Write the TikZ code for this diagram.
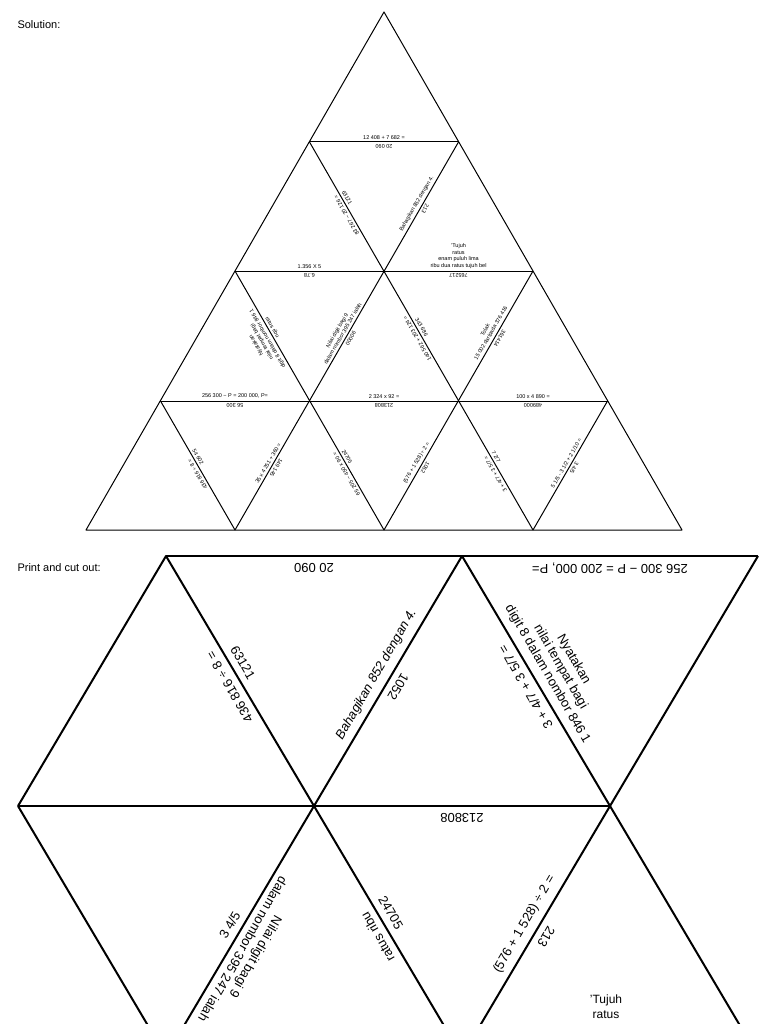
\documentclass[tikz,border=0pt]{standalone}
\usepackage{fontspec}
\setmainfont{Liberation Sans}
\usetikzlibrary{calc}

\begin{document}
\begin{tikzpicture}[
        x=1pt, y=-1pt,
        tri/.style={draw, line width=1pt, line join=round},
        cut/.style={draw, line width=2pt, line join=round},
        sol/.style={font=\fontsize{5.5}{6.5}\selectfont, inner sep=2.5pt, align=center},
        big/.style={font=\fontsize{13}{15}\selectfont, inner sep=7pt, align=center},
    ]
    \useasboundingbox (0,0) rectangle (768,1024);

    % Solution grid
    \coordinate (A) at (384,12);
    \foreach \k/\y in {1/142, 2/271, 3/401, 4/530} {
        \foreach \i in {0,...,\k} {
            \coordinate (P\k\i) at ({384-74.5*\k+149*\i}, \y);
        }
    }
    \node[font=\fontsize{11}{13}\selectfont, anchor=west] (soltitle) at (14,25) {Solution:};
    \path[tri] (A) -- (P40) -- (P44) -- cycle;
    \path[tri] (P10) -- (P11) (P20) -- (P22) (P30) -- (P33);
    \path[tri] (P11) -- (P41) (P22) -- (P42) (P33) -- (P43);
    \path[tri] (P10) -- (P43) (P20) -- (P42) (P30) -- (P41);

    % Row 2
    \node[sol, anchor=south] (s1) at ($(P10)!.5!(P11)$) {12 408 + 7 682 =};
    \node[sol, anchor=south, rotate=180] (s2) at ($(P10)!.5!(P11)$) {20 090};
    \path (P10) -- (P21) node[sol, pos=.45, rotate=-60, anchor=south] (s3) {63121}
                         node[sol, pos=.55, rotate=120, anchor=south] (s4) {83 267 − 20 126 =};
    \path (P21) -- (P11) node[sol, pos=.5, rotate=60, anchor=south] (s5) {Bahagikan 852 dengan 4.}
                         node[sol, pos=.5, rotate=-120, anchor=south] (s6) {213};
    \node[sol, anchor=south] (s7) at ($(P20)!.5!(P21)$) {1.356 X 5};
    \node[sol, anchor=south, rotate=180] (s8) at ($(P20)!.5!(P21)$) {6.78};
    \node[sol, anchor=south] (s9) at ($(P21)!.5!(P22)$) {'Tujuh\\ratus\\enam puluh lima\\ribu dua ratus tujuh bel};
    \node[sol, anchor=south, rotate=180] (s10) at ($(P21)!.5!(P22)$) {765217};

    % Row 3
    \path (P20) -- (P31) node[sol, pos=.5, rotate=120, anchor=south] (s11) {Nyatakan\\nilai tempat bagi\\digit 8 dalam nombor 846 1}
                         node[sol, pos=.45, rotate=-60, anchor=south] (s12) {ratus ribu};
    \path (P31) -- (P21) node[sol, pos=.5, rotate=60, anchor=south] (s13) {Nilai digit bagi 9\\dalam nombor 395 247 ialah}
                         node[sol, pos=.5, rotate=-120, anchor=south] (s14) {90000};
    \path (P21) -- (P32) node[sol, pos=.5, rotate=120, anchor=south] (s15) {140 562 + 203 124 =}
                         node[sol, pos=.45, rotate=-60, anchor=south] (s16) {343 686};
    \path (P32) -- (P22) node[sol, pos=.5, rotate=60, anchor=south] (s17) {Tolak\\15 002 daripada 376 416}
                         node[sol, pos=.5, rotate=-120, anchor=south] (s18) {361414};
    \node[sol, anchor=south] (s19) at ($(P30)!.5!(P31)$) {256 300 − P = 200 000, P=};
    \node[sol, anchor=south, rotate=180] (s20) at ($(P30)!.5!(P31)$) {56 300};
    \node[sol, anchor=south] (s21) at ($(P31)!.5!(P32)$) {2 324 x 92 =};
    \node[sol, anchor=south, rotate=180] (s22) at ($(P31)!.5!(P32)$) {213808};
    \node[sol, anchor=south] (s23) at ($(P32)!.5!(P33)$) {100 x 4 890 =};
    \node[sol, anchor=south, rotate=180] (s24) at ($(P32)!.5!(P33)$) {489000};

    % Row 4
    \path (P30) -- (P41) node[sol, pos=.55, rotate=120, anchor=south] (s25) {436 816 ÷ 8 =}
                         node[sol, pos=.45, rotate=-60, anchor=south] (s26) {54 602};
    \path (P41) -- (P31) node[sol, pos=.5, rotate=60, anchor=south] (s27) {35 x 4 251 + 360 =}
                         node[sol, pos=.5, rotate=-120, anchor=south] (s28) {149 145};
    \path (P31) -- (P42) node[sol, pos=.55, rotate=120, anchor=south] (s29) {65 205 − 450 x 90 =}
                         node[sol, pos=.45, rotate=-60, anchor=south] (s30) {24705};
    \path (P42) -- (P32) node[sol, pos=.5, rotate=60, anchor=south] (s31) {(576 + 1 528) ÷ 2 =}
                         node[sol, pos=.5, rotate=-120, anchor=south] (s32) {1052};
    \path (P32) -- (P43) node[sol, pos=.55, rotate=120, anchor=south] (s33) {3 + 4/7 + 3 5/7 =}
                         node[sol, pos=.45, rotate=-60, anchor=south] (s34) {7 2/7};
    \path (P43) -- (P33) node[sol, pos=.5, rotate=60, anchor=south] (s35) {5 1/5 - 3 1/2 + 2 1/10 =}
                         node[sol, pos=.5, rotate=-120, anchor=south] (s36) {3 4/5};

    % Cut-out pieces
    \node[font=\fontsize{11}{13}\selectfont, anchor=west] (cuttitle) at (14,568) {Print and cut out:};
    \foreach \i/\x in {0/166, 1/462, 2/758} { \coordinate (Q\i) at (\x,556); }
    \foreach \i/\x in {0/18, 1/314, 2/610} { \coordinate (R\i) at (\x,806); }
    \foreach \i/\x in {0/166, 1/462, 2/758} { \coordinate (S\i) at (\x,1056); }
    \begin{scope}
        \clip (0,0) rectangle (768,1024);
        \path[cut] (Q0) -- (Q2) (R0) -- (R2);
        \path[cut] (R0) -- (Q0) -- (R1) -- (Q1) -- (R2) -- (Q2);
        \path[cut] (R0) -- (S0) -- (R1) -- (S1) -- (R2) -- (S2);

        \node[big, anchor=south, rotate=180] (c1) at ($(Q0)!.5!(Q1)$) {20 090};
        \node[big, anchor=south, rotate=180] (c2) at ($(Q1)!.5!(Q2)$) {256 300 − P = 200 000, P=};
        \path (Q0) -- (R1) node[big, pos=.45, rotate=-60, anchor=south] (c3) {63121}
                           node[big, pos=.5, rotate=120, anchor=south] (c4) {436 816 ÷ 8 =};
        \path (R1) -- (Q1) node[big, pos=.5, rotate=60, anchor=south, font=\fontsize{13}{15}\selectfont\itshape] (c5) {Bahagikan 852 dengan 4.}
                           node[big, pos=.5, rotate=-120, anchor=south] (c6) {1052};
        \path (Q1) -- (R2) node[big, pos=.5, rotate=-60, anchor=south] (c7) {Nyatakan\\nilai tempat bagi\\digit 8 dalam nombor 846 1}
                           node[big, pos=.5, rotate=120, anchor=south] (c8) {3 + 4/7 + 3 5/7 =};
        \node[big, anchor=south, rotate=180] (c9) at ($(R1)!.5!(R2)$) {213808};
        \path (S0) -- (R1) node[big, pos=.5, rotate=60, anchor=south] (c10) {3 4/5}
                           node[big, pos=.45, rotate=-120, anchor=south] (c11) {Nilai digit bagi 9\\dalam nombor 395 247 ialah};
        \path (R1) -- (S1) node[big, pos=.45, rotate=-60, anchor=south] (c12) {24705}
                           node[big, pos=.5, rotate=120, anchor=south] (c13) {ratus ribu};
        \path (S1) -- (R2) node[big, pos=.5, rotate=60, anchor=south] (c14) {(576 + 1 528) ÷ 2 =}
                           node[big, pos=.5, rotate=-120, anchor=south] (c15) {213};
        \node[big, anchor=north, inner sep=0pt, font=\fontsize{12}{15}\selectfont] (c16) at (606,995) {'Tujuh\\ratus\\enam puluh lima\\ribu dua ratus tujuh bel};
    \end{scope}
\end{tikzpicture}
\end{document}
